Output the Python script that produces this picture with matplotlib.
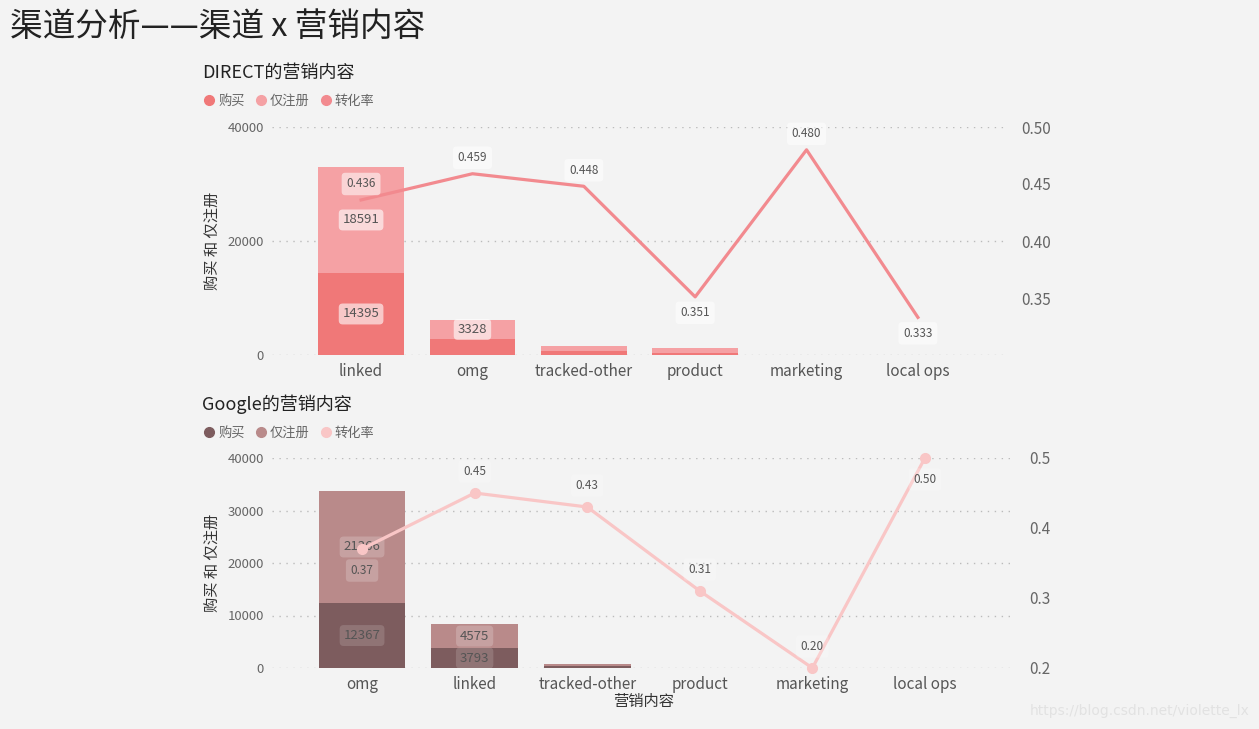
import matplotlib.pyplot as plt
from matplotlib.lines import Line2D
from matplotlib.ticker import FuncFormatter

plt.rcParams['font.family'] = ['Noto Sans CJK SC', 'DejaVu Sans']

# DIRECT 渠道
direct_cats = ['linked', 'omg', 'tracked-other', 'product', 'marketing', 'local ops']
direct_buy = [14395, 2824, 700, 420, 12, 1]
direct_reg = [18591, 3328, 862, 777, 13, 2]
direct_rate = [0.436, 0.459, 0.448, 0.351, 0.480, 0.333]

# Google 渠道
google_cats = ['omg', 'linked', 'tracked-other', 'product', 'marketing', 'local ops']
google_buy = [12367, 3793, 330, 9, 1, 1]
google_reg = [21366, 4575, 437, 20, 4, 1]
google_rate = [0.37, 0.45, 0.43, 0.31, 0.20, 0.50]

BG = '#F3F3F3'
W, H = 1259, 729

fig = plt.figure(figsize=(W / 100, H / 100), dpi=100, facecolor=BG)


def px_axes(x0, y0, x1, y1):
    return fig.add_axes([x0 / W, 1 - y1 / H, (x1 - x0) / W, (y1 - y0) / H])


def draw(ax, cats, buy, reg, rate, colors, yticks, rlim, rticks, rfmt, lblfmt,
         lbl_pos, lbl_off, markers, box_alpha, rate_alpha):
    c_buy, c_reg, c_line = colors
    ax.set_facecolor(BG)
    x = list(range(len(cats)))
    ax.bar(x, buy, width=0.77, color=c_buy, zorder=2)
    ax.bar(x, reg, width=0.77, bottom=buy, color=c_reg, zorder=2)
    for i in x:
        for v, base, a in ((buy[i], 0, box_alpha[0]), (reg[i], buy[i], box_alpha[1])):
            if v > 3000:
                ax.text(i, base + v / 2, str(v), ha='center', va='center', fontsize=9.5,
                        color='#555555', zorder=5,
                        bbox=dict(boxstyle='round,pad=0.3,rounding_size=0.3',
                                  fc='white', ec='none', alpha=a))
    ax.set_xlim(-0.8, len(cats) - 0.2)
    ax.set_ylim(0, yticks[-1])
    ax.set_yticks(yticks)
    ax.set_xticks(x)
    ax.set_xticklabels(cats, fontsize=11, color='#555555')
    ax.tick_params(axis='both', length=0, pad=6)
    ax.tick_params(axis='y', labelsize=9.5, labelcolor='#666666')
    ax.grid(axis='y', linestyle=(0, (1, 4)), color='#BBBBBB', lw=1, zorder=0)
    for s in ax.spines.values():
        s.set_visible(False)
    ax.set_ylabel('购买 和 仅注册', fontsize=11, color='#333333', labelpad=4)

    ax2 = ax.twinx()
    ax2.plot(x, rate, color=c_line, lw=2.3, marker='o' if markers else None,
             ms=7, clip_on=False, zorder=3)
    ax2.set_ylim(*rlim)
    ax2.set_yticks(rticks)
    ax2.yaxis.set_major_formatter(FuncFormatter(rfmt))
    ax2.tick_params(axis='y', length=0, pad=10, labelsize=11, labelcolor='#666666')
    for s in ax2.spines.values():
        s.set_visible(False)
    for i, r in enumerate(rate):
        dy = lbl_off if lbl_pos[i] == 'up' else -lbl_off
        ax2.annotate(lblfmt.format(r), (i, r), xytext=(0, dy), textcoords='offset points',
                     ha='center', va='center', fontsize=8.5, color='#555555', zorder=6,
                     bbox=dict(boxstyle='round,pad=0.4,rounding_size=0.3',
                               fc='white', ec='none', alpha=rate_alpha))
    return ax2


ax_top = px_axes(272, 127, 1007, 355)
draw(ax_top, direct_cats, direct_buy, direct_reg, direct_rate,
     ('#F07878', '#F5A1A4', '#F28A8F'), [0, 20000, 40000], (0.30, 0.50),
     [0.35, 0.40, 0.45, 0.50], lambda v, p: f'{v:.2f}', '{:.3f}',
     ['up', 'up', 'up', 'down', 'up', 'down'], 11.5, False, (0.6, 0.6), 0.55)

ax_bot = px_axes(272, 458, 1015, 668)
draw(ax_bot, google_cats, google_buy, google_reg, google_rate,
     ('#7D5C5E', '#B98A8A', '#F9C6C6'), [0, 10000, 20000, 30000, 40000], (0.2, 0.5),
     [0.2, 0.3, 0.4, 0.5], lambda v, p: f'{v:.1f}', '{:.2f}',
     ['down', 'up', 'up', 'up', 'up', 'down'], 15.5, True, (0.15, 0.2), 0.2)
ax_bot.set_xlabel('营销内容', fontsize=11, color='#333333', labelpad=0)

fig.text(10 / W, 1 - 27 / H, '渠道分析——渠道 x 营销内容', fontsize=23.5, color='#222222',
         va='center', ha='left')
fig.text(202 / W, 1 - 73 / H, 'DIRECT的营销内容', fontsize=13, color='#222222',
         va='center', ha='left', fontweight='medium')
fig.text(202 / W, 1 - 404 / H, 'Google的营销内容', fontsize=13, color='#222222',
         va='center', ha='left', fontweight='medium')

for y, cols in ((101, ('#F07878', '#F5A1A4', '#F28A8F')),
                (433, ('#7D5C5E', '#B98A8A', '#F9C6C6'))):
    handles = [Line2D([], [], marker='o', ls='none', ms=7, color=c) for c in cols]
    fig.legend(handles, ['购买', '仅注册', '转化率'], loc='center left',
               bbox_to_anchor=(196 / W, 1 - y / H), ncol=3, frameon=False,
               fontsize=9.5, labelcolor='#666666', handletextpad=-0.3,
               columnspacing=0.2, borderaxespad=0, borderpad=0)

fig.text(1250 / W, 1 - 711 / H, 'https://blog.csdn.net/violette_lx', fontsize=10,
         color='#E2E2E2', va='center', ha='right', family='DejaVu Sans')

fig.savefig('out.png', dpi=100, facecolor=BG)
